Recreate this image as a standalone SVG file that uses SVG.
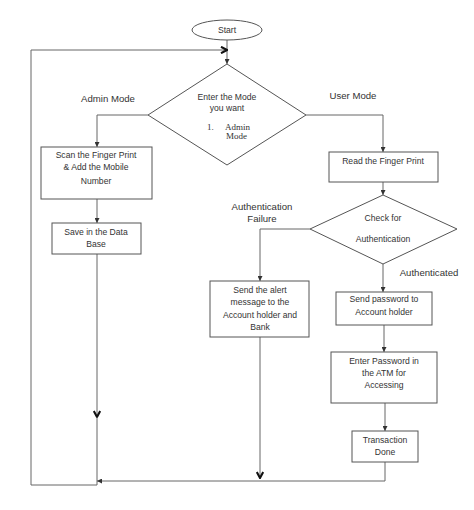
<svg xmlns="http://www.w3.org/2000/svg" width="474" height="510" viewBox="0 0 474 510">
<defs>
<marker id="tri" viewBox="0 0 10 10" refX="10" refY="5" markerWidth="5" markerHeight="5" orient="auto" markerUnits="userSpaceOnUse">
<path d="M0,0 L10,5 L0,10 Z" fill="#333"/>
</marker>
<marker id="chev" viewBox="0 0 10 10" refX="9" refY="5" markerWidth="8" markerHeight="8" orient="auto" markerUnits="userSpaceOnUse">
<path d="M1.5,1 L9,5 L1.5,9" fill="none" stroke="#111" stroke-width="2.6"/>
</marker>
<style>
.b{fill:#fff;stroke:#555;stroke-width:1}
.c{fill:none;stroke:#666;stroke-width:1}
.t{font-family:"Liberation Sans",Arial,sans-serif;font-size:8.6px;fill:#333;text-anchor:middle}
.l{font-family:"Liberation Sans",Arial,sans-serif;font-size:9.6px;fill:#333;text-anchor:middle}
.s{font-family:"Liberation Serif","Times New Roman",serif;font-size:9px;fill:#333}
</style>
</defs>
<rect width="474" height="510" fill="#fff"/>
<g id="connectors">
<path class="c" d="M227,40 V64" marker-end="url(#tri)"/>
<path class="c" d="M31,50 H227" marker-end="url(#chev)"/>
<path class="c" d="M148,115 H97 V147" marker-end="url(#tri)"/>
<path class="c" d="M306,115 H383 V152" marker-end="url(#tri)"/>
<path class="c" d="M97,199 V223" marker-end="url(#tri)"/>
<path class="c" d="M383,182 V195" marker-end="url(#tri)"/>
<path class="c" d="M310,229 H260 V281" marker-end="url(#tri)"/>
<path class="c" d="M383,264 V292" marker-end="url(#tri)"/>
<path class="c" d="M384,325 V352" marker-end="url(#tri)"/>
<path class="c" d="M385,403 V431" marker-end="url(#tri)"/>
<path class="c" d="M97,254 V417" marker-end="url(#chev)"/>
<path class="c" d="M97,417 V485 H31 V50"/>
<path class="c" d="M260,337 V478" marker-end="url(#chev)"/>
<path class="c" d="M385,462 V481 H97" marker-end="url(#tri)"/>
</g>
<g id="start">
<ellipse class="b" cx="227" cy="30" rx="35" ry="10"/>
<text class="t" x="227" y="33">Start</text>
</g>
<g id="mode">
<path class="b" d="M227,64 L306,115 L227,165 L148,115 Z"/>
<text class="t" x="227" y="100" font-size="8">Enter the Mode</text>
<text class="t" x="227" y="111" font-size="8">you want</text>
<text class="s" x="207" y="130">1.</text>
<text class="s" x="225" y="130">Admin</text>
<text class="s" x="226" y="139">Mode</text>
</g>
<g id="labels">
<text class="l" x="108" y="102">Admin Mode</text>
<text class="l" x="353" y="99">User Mode</text>
<text class="l" x="262" y="210">Authentication</text>
<text class="l" x="262" y="222">Failure</text>
<text class="l" x="429" y="276">Authenticated</text>
</g>
<g id="scan">
<rect class="b" x="41" y="147" width="111" height="52"/>
<text class="t" x="96" y="158">Scan the Finger Print</text>
<text class="t" x="96" y="170">&amp; Add the Mobile</text>
<text class="t" x="96" y="184">Number</text>
</g>
<g id="save">
<rect class="b" x="52" y="223" width="89" height="31"/>
<text class="t" x="96" y="235">Save in the Data</text>
<text class="t" x="96" y="247">Base</text>
</g>
<g id="read">
<rect class="b" x="329" y="152" width="109" height="30"/>
<text class="t" x="383" y="164">Read the Finger Print</text>
</g>
<g id="check">
<path class="b" d="M383,195 L457,229 L383,264 L310,229 Z"/>
<text class="t" x="383" y="221">Check for</text>
<text class="t" x="383" y="242">Authentication</text>
</g>
<g id="alert">
<rect class="b" x="210" y="281" width="99" height="56"/>
<text class="t" x="260" y="293">Send the alert</text>
<text class="t" x="260" y="305">message to the</text>
<text class="t" x="260" y="318">Account holder and</text>
<text class="t" x="260" y="330">Bank</text>
</g>
<g id="sendpw">
<rect class="b" x="336" y="292" width="96" height="33"/>
<text class="t" x="384" y="302">Send password to</text>
<text class="t" x="384" y="315">Account holder</text>
</g>
<g id="enterpw">
<rect class="b" x="331" y="352" width="106" height="51"/>
<text class="t" x="384" y="364">Enter Password in</text>
<text class="t" x="384" y="376">the ATM for</text>
<text class="t" x="384" y="388">Accessing</text>
</g>
<g id="done">
<rect class="b" x="352" y="431" width="66" height="31"/>
<text class="t" x="385" y="443">Transaction</text>
<text class="t" x="385" y="455">Done</text>
</g>
</svg>
